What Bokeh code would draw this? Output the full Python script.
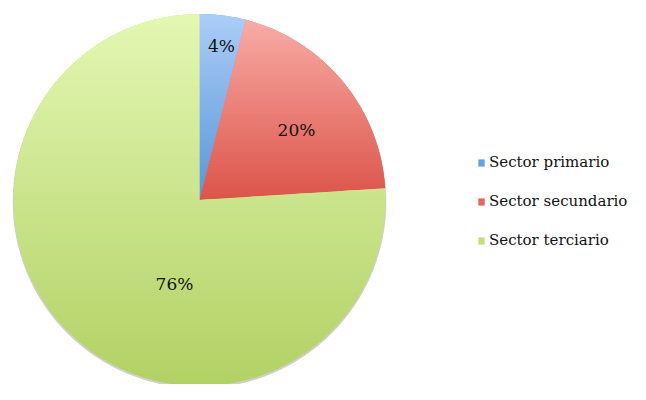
import math
from bokeh.plotting import figure
from bokeh.models import Range1d, Legend, LegendItem
from bokeh.core.properties import value
from bokeh.embed import file_html
from bokeh.resources import INLINE

# ---- data ----
categories = ["Sector primario", "Sector secundario", "Sector terciario"]
values = [4, 20, 76]
pct_labels = ["4%", "20%", "76%"]

# ---- style ----
legend_colors = ["#6a9fe0", "#e4655c", "#c3df80"]
top_colors = [(172, 205, 248), (248, 172, 166), (228, 247, 180)]
bottom_colors = [(88, 150, 215), (220, 84, 74), (178, 209, 100)]
FONT = "DejaVu Serif"

W, H = 630, 384
def Y(py):
    return 400 - py

CX, CY, R = 199.0, Y(199.5), 186.0
LABEL_PX = [(221, 45), (296, 129), (174, 283)]

p = figure(width=W, height=H, output_backend="svg", toolbar_location=None,
           x_range=Range1d(0, 630), y_range=Range1d(16, 400),
           min_border=0, outline_line_color=None)
p.axis.visible = False
p.grid.visible = False
p.background_fill_color = "white"

# soft shadow rim
p.circle(x=[CX], y=[CY - 1.5], radius=R + 0.8, fill_color="#cfcfcf", line_color=None)

# angles
total = float(sum(values))
starts, ends = [], []
cum = 0.0
for v in values:
    a_hi = math.pi / 2 - 2 * math.pi * cum / total
    a_lo = a_hi - 2 * math.pi * v / total
    starts.append(a_lo)
    ends.append(a_hi)
    cum += v

renderers = []
for i in range(3):
    r = p.wedge(x=CX, y=CY, radius=R, start_angle=starts[i], end_angle=ends[i],
                fill_color=legend_colors[i], line_color=None)
    renderers.append(r)

# vertical gradient: split each wedge into horizontal bands
def clip(poly, y, above):
    out = []
    n = len(poly)
    for k in range(n):
        P, Q = poly[k], poly[(k + 1) % n]
        pin = P[1] >= y if above else P[1] <= y
        qin = Q[1] >= y if above else Q[1] <= y
        if pin:
            out.append(P)
        if pin != qin:
            t = (y - P[1]) / (Q[1] - P[1])
            out.append((P[0] + t * (Q[0] - P[0]), y))
    return out

bx, by, bc = [], [], []
for i in range(3):
    a_lo, a_hi = starts[i], ends[i]
    n = max(8, int(abs(a_hi - a_lo) / 0.01))
    poly = [(CX, CY)]
    for k in range(n + 1):
        a = a_hi + (a_lo - a_hi) * k / n
        poly.append((CX + R * math.cos(a), CY + R * math.sin(a)))
    ys = [pt[1] for pt in poly]
    ytop, ybot = max(ys), min(ys)
    NB = int((ytop - ybot) / 3) + 1
    h = (ytop - ybot) / NB
    for b in range(NB):
        y1 = ytop - b * h + 0.4
        y0 = ytop - (b + 1) * h - 0.4
        seg = clip(clip(poly, y0, True), y1, False)
        if len(seg) < 3:
            continue
        t = (ytop - (y0 + y1) / 2) / (ytop - ybot)
        t = min(1, max(0, t))
        c = tuple(int(round(top_colors[i][j] + t * (bottom_colors[i][j] - top_colors[i][j]))) for j in range(3))
        bx.append([pt[0] for pt in seg])
        by.append([pt[1] for pt in seg])
        bc.append("#%02x%02x%02x" % c)

p.patches(xs=bx, ys=by, fill_color=bc, line_color=None)

# percentage labels
p.text(x=[q[0] for q in LABEL_PX], y=[Y(q[1]) for q in LABEL_PX], text=pct_labels,
       text_align="center", text_baseline="middle", text_font=value(FONT),
       text_font_size="17px", text_color="#111111")

legend = Legend(items=[LegendItem(label=categories[i], renderers=[renderers[i]]) for i in range(3)],
                location=(477, 134), orientation="vertical",
                label_text_font=FONT, label_text_font_size="15px", label_text_color="#111111",
                glyph_width=8, glyph_height=9, label_standoff=4, label_height=20,
                spacing=19, padding=0, margin=0, border_line_color=None,
                background_fill_alpha=0)
p.add_layout(legend)

open("out.html", "w").write(file_html(p, INLINE))
